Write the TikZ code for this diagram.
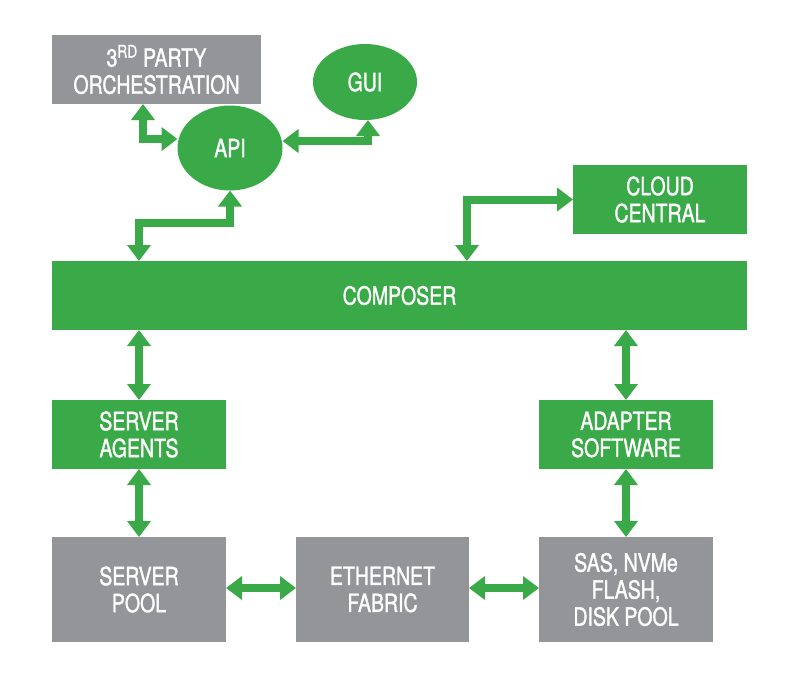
\documentclass[tikz,border=0pt]{standalone}
\usepackage{fontspec}
\setmainfont[FakeStretch=0.78,FakeBold=1.3]{TeX Gyre Heros}
\usetikzlibrary{arrows.meta,shapes.geometric}
\definecolor{dgreen}{HTML}{3AAA49}
\definecolor{dgray}{HTML}{939598}
\tikzset{
  base/.style={inner sep=0pt, outer sep=0pt, text=white, align=center,
    font=\fontsize{25}{27}\selectfont},
  gbox/.style={base, rectangle, fill=dgreen},
  graybox/.style={base, rectangle, fill=dgray},
  gell/.style={base, ellipse, fill=dgreen},
  arr/.style={draw=dgreen, line width=8pt, line join=miter,
    {Triangle[length=16pt,width=23pt]}-{Triangle[length=16pt,width=23pt]}}
}
\begin{document}
\begin{tikzpicture}[x=1pt,y=-1pt]
\fill[white] (0,0) rectangle (800,678);
\useasboundingbox (0,0) rectangle (800,678);
\node[graybox, minimum width=209pt, minimum height=69pt] (orch) at (156.5,69.5) {3\textsuperscript{RD} PARTY\\ORCHESTRATION};
\node[gell, minimum width=104pt, minimum height=76pt] (gui) at (365,82) {GUI};
\node[gell, minimum width=105pt, minimum height=85pt] (api) at (230,148) {API};
\node[gbox, minimum width=174pt, minimum height=69pt] (cloud) at (660,199.5) {CLOUD\\CENTRAL};
\node[gbox, minimum width=695pt, minimum height=69pt] (comp) at (399.5,295.5) {COMPOSER};
\node[gbox, minimum width=174pt, minimum height=69pt] (agents) at (139,434.5) {SERVER\\AGENTS};
\node[gbox, minimum width=174pt, minimum height=69pt] (adapter) at (626,434.5) {ADAPTER\\SOFTWARE};
\node[graybox, minimum width=174pt, minimum height=105pt] (spool) at (139,589.5) {SERVER\\POOL};
\node[graybox, minimum width=173pt, minimum height=105pt] (eth) at (382.5,589.5) {ETHERNET\\FABRIC};
\node[graybox, minimum width=174pt, minimum height=105pt] (sas) at (626,589.5) {SAS, NVMe\\FLASH,\\DISK POOL};

\draw[arr] ([xshift=-13.5pt]orch.south) |- ([yshift=9pt]api.west);
\draw[arr] ([yshift=7pt]api.east) -| ([xshift=3pt]gui.south);
\draw[arr] (agents.north |- comp.north) -- ++(0,-38) -| (api.south);
\draw[arr] ([xshift=67.5pt]comp.north) |- (cloud.west);
\draw[arr] (comp.south -| agents.north) -- (agents.north);
\draw[arr] (comp.south -| adapter.north) -- (adapter.north);
\draw[arr] (agents.south) -- (spool.north);
\draw[arr] (adapter.south) -- (sas.north);
\draw[arr] ([yshift=1.5pt]spool.east) -- ([yshift=1.5pt]eth.west);
\draw[arr] ([yshift=1.5pt]eth.east) -- ([yshift=1.5pt]sas.west);
\end{tikzpicture}
\end{document}
